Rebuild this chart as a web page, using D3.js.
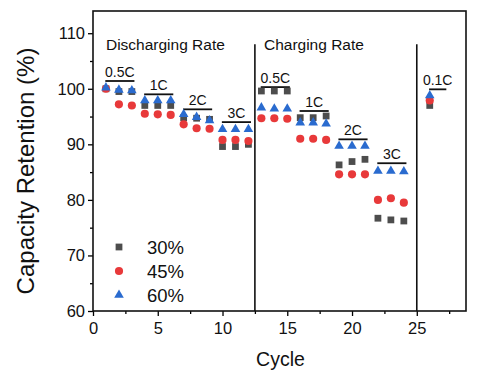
<!DOCTYPE html>
<html>
<head>
<meta charset="utf-8">
<script src="https://cdn.jsdelivr.net/npm/d3@7"></script>
<style>
  body { margin: 0; background: #fff; }
  text { font-family: "Liberation Sans", Arial, sans-serif; fill: #111; }
</style>
</head>
<body>
<div id="chart"></div>
<script>
// capacity retention per cycle
var cycles = [1,2,3,4,5,6,7,8,9,10,11,12,13,14,15,16,17,18,19,20,21,22,23,24,26];
var s30 = [100.0,99.5,99.5,97.0,97.0,97.0,94.8,94.7,94.5,89.6,89.6,90.0,99.6,99.6,99.6,94.8,94.8,95.1,86.3,86.9,87.3,76.7,76.4,76.2,97.0];
var s45 = [100.0,97.2,97.0,95.5,95.4,95.3,93.6,92.9,92.8,90.8,90.8,90.6,94.7,94.7,94.6,91.0,91.0,90.8,84.6,84.6,84.6,80.0,80.3,79.5,97.9];
var s60 = [100.2,99.8,99.7,97.9,97.9,97.9,95.4,94.9,94.3,92.7,92.7,92.7,96.6,96.4,96.4,93.9,93.9,93.7,89.7,89.7,89.7,85.2,85.2,85.1,98.8];

var seriesNames = ["30%", "45%", "60%"];
var seriesColors = ["#4d4d4d", "#e8393a", "#2a6bcf"];

// rate groups: label, first cycle, last cycle, bar level
var rateLabels = ["0.5C","1C","2C","3C","0.5C","1C","2C","3C","0.1C"];
var rateFirst  = [1,4,7,10,13,16,19,22,26];
var rateLast   = [3,6,9,12,15,18,21,24,26];
var rateLevel  = [101.4,99.0,96.3,94.0,100.3,96.0,90.9,86.6,99.9];

var sectionLabels = ["Discharging Rate", "Charging Rate"];
var sectionStart = [1.0, 13.2];
var dividers = [12.5, 25];

var xTicks = [0,5,10,15,20,25];
var yTicks = [60,70,80,90,100,110];

var W = 480, H = 377;
var margin = {top: 11, right: 14, bottom: 66, left: 93},
    width = W - margin.left - margin.right,
    height = H - margin.top - margin.bottom;

var x = d3.scaleLinear().domain([0, 28.8]).range([0, width]);
var y = d3.scaleLinear().domain([60, 114]).range([height, 0]);

var svg = d3.select("#chart").append("svg")
    .attr("width", W)
    .attr("height", H)
  .append("g")
    .attr("transform", "translate(" + margin.left + "," + margin.top + ")");

// minor ticks
svg.append("g")
    .attr("transform", "translate(0," + height + ")")
    .call(d3.axisBottom(x).tickValues(d3.range(2.5, 28.8, 5)).tickSize(3).tickFormat(""))
    .call(function(g) { g.select(".domain").remove(); g.selectAll("line").attr("stroke-width", 1.3); });
svg.append("g")
    .call(d3.axisLeft(y).tickValues(d3.range(65, 114, 10)).tickSize(3).tickFormat(""))
    .call(function(g) { g.select(".domain").remove(); g.selectAll("line").attr("stroke-width", 1.3); });

// major axes
var xAxis = svg.append("g")
    .attr("transform", "translate(0," + height + ")")
    .call(d3.axisBottom(x).tickValues(xTicks).tickSize(5).tickPadding(6));
xAxis.select(".domain").remove();
xAxis.selectAll("line").attr("stroke-width", 1.3);
xAxis.selectAll("text").style("font-size", "16.5px").attr("fill", "#111");

var yAxis = svg.append("g")
    .call(d3.axisLeft(y).tickValues(yTicks).tickSize(5).tickPadding(3));
yAxis.select(".domain").remove();
yAxis.selectAll("line").attr("stroke-width", 1.3);
yAxis.selectAll("text").style("font-size", "16.5px").attr("fill", "#111");

// frame
svg.append("rect")
    .attr("width", width)
    .attr("height", height)
    .attr("fill", "none")
    .attr("stroke", "#111")
    .attr("stroke-width", 1.6);

// dividers
svg.selectAll(".divider")
    .data(dividers)
  .enter().append("line")
    .attr("x1", function(d) { return x(d); })
    .attr("x2", function(d) { return x(d); })
    .attr("y1", y(108))
    .attr("y2", height)
    .attr("stroke", "#111")
    .attr("stroke-width", 1.6);

svg.selectAll(".section")
    .data(sectionLabels)
  .enter().append("text")
    .attr("x", function(d, i) { return x(sectionStart[i]); })
    .attr("y", 39)
    .style("font-size", "15.5px")
    .text(function(d) { return d; });

// rate bars and labels
svg.selectAll(".ratebar")
    .data(rateLabels)
  .enter().append("line")
    .attr("x1", function(d, i) { return x(rateFirst[i] - 0.05); })
    .attr("x2", function(d, i) { return x(rateLast[i] + 0.2) + (rateFirst[i] == rateLast[i] ? 14 : 0); })
    .attr("y1", function(d, i) { return y(rateLevel[i]); })
    .attr("y2", function(d, i) { return y(rateLevel[i]); })
    .attr("stroke", "#111")
    .attr("stroke-width", 1.8);

svg.selectAll(".ratelabel")
    .data(rateLabels)
  .enter().append("text")
    .attr("x", function(d, i) { return (x(rateFirst[i] - 0.05) + x(rateLast[i] + 0.2) + (rateFirst[i] == rateLast[i] ? 14 : 0)) / 2; })
    .attr("y", function(d, i) { return y(rateLevel[i]) - 4.5; })
    .attr("text-anchor", "middle")
    .style("font-size", "14px")
    .text(function(d) { return d; });

// markers
var allSeries = [s30, s45, s60];
var shapes = [d3.symbolSquare, d3.symbolCircle, d3.symbolTriangle];
var sizes = [46, 52, 40];

allSeries.forEach(function(vals, k) {
  svg.append("g").selectAll("path")
      .data(vals)
    .enter().append("path")
      .attr("d", d3.symbol().type(shapes[k]).size(sizes[k]))
      .attr("transform", function(d, i) { return "translate(" + x(cycles[i]) + "," + y(d) + ")"; })
      .attr("fill", seriesColors[k]);
});

// legend
var legend = svg.append("g").attr("transform", "translate(" + (119 - margin.left) + "," + (247 - margin.top) + ")");
seriesNames.forEach(function(name, k) {
  legend.append("path")
      .attr("d", d3.symbol().type(shapes[k]).size(sizes[k]))
      .attr("transform", "translate(0," + (k * 24) + ")")
      .attr("fill", seriesColors[k]);
  legend.append("text")
      .attr("x", 28)
      .attr("y", k * 24 + 6.5)
      .style("font-size", "18.5px")
      .text(name);
});

// axis titles
svg.append("text")
    .attr("x", width / 2 + 1)
    .attr("y", height + 55)
    .attr("text-anchor", "middle")
    .style("font-size", "19.5px")
    .text("Cycle");

svg.append("text")
    .attr("transform", "translate(" + (34 - margin.left) + "," + (height / 2 + 10) + ") rotate(-90)")
    .attr("text-anchor", "middle")
    .style("font-size", "24px")
    .text("Capacity Retention (%)");
</script>
</body>
</html>
